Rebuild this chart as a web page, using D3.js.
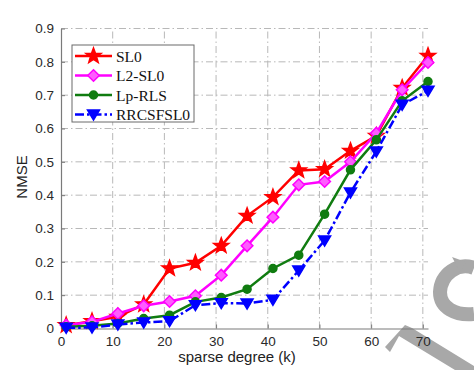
<!DOCTYPE html>
<html><head><meta charset="utf-8">
<script src="https://cdn.jsdelivr.net/npm/d3@7"></script>
<style>body{margin:0;background:#fff}svg{display:block}</style>
</head><body>
<svg id="c" width="474" height="370"></svg>
<script>
const kValues = [1, 6, 11, 16, 21, 26, 31, 36, 41, 46, 51, 56, 61, 66, 71];
const sl0     = [0.010, 0.022, 0.035, 0.072, 0.180, 0.197, 0.248, 0.338, 0.394, 0.474, 0.478, 0.533, 0.578, 0.722, 0.818];
const l2sl0   = [0.010, 0.020, 0.045, 0.068, 0.081, 0.098, 0.160, 0.248, 0.334, 0.431, 0.441, 0.500, 0.586, 0.716, 0.798];
const lprls   = [0.005, 0.008, 0.015, 0.030, 0.040, 0.080, 0.093, 0.118, 0.180, 0.220, 0.343, 0.476, 0.566, 0.683, 0.741];
const rrcsf   = [0.002, 0.003, 0.012, 0.018, 0.022, 0.070, 0.076, 0.075, 0.086, 0.174, 0.264, 0.408, 0.531, 0.671, 0.713];
const seriesNames = ["SL0", "L2-SL0", "Lp-RLS", "RRCSFSL0"];
const xTicks = [0, 10, 20, 30, 40, 50, 60, 70];
const yTicks = [0, 0.1, 0.2, 0.3, 0.4, 0.5, 0.6, 0.7, 0.8, 0.9];

const svg = d3.select("#c");
const x = d3.scaleLinear().domain([0, 71]).range([61, 428]);
const y = d3.scaleLinear().domain([0, 0.9]).range([328.5, 28.5]);

// watermark shapes (background)
const wm = svg.append("g");
wm.append("path").attr("d", "M474,268 C458,262 441,274 440,292 C440,308 456,316 474,314")
  .attr("fill", "none").attr("stroke", "#a8a8a8").attr("stroke-width", 14);
wm.append("path").attr("d", "M452,257 L466,262 L460,272 Z").attr("fill", "#a8a8a8");
wm.append("path").attr("d", "M405,325 L412,328 L474,366 L474,370 L455,370 L399,336 L390,352 L385,347 Z")
  .attr("fill", "#a8a8a8");

// marker shapes
function starPath(R, r) {
  const p = [];
  for (let i = 0; i < 10; i++) {
    const a = -Math.PI / 2 + i * Math.PI / 5;
    const rad = i % 2 === 0 ? R : r;
    p.push([rad * Math.cos(a), rad * Math.sin(a)]);
  }
  return "M" + p.map(q => q[0].toFixed(2) + "," + q[1].toFixed(2)).join("L") + "Z";
}
function diamondPath(h) { return `M0,${-h}L${h},0L0,${h}L${-h},0Z`; }
function triDownPath(w, h) { return `M${-w},${-h * 0.45}L${w},${-h * 0.45}L0,${h * 0.55}Z`; }
function circlePath(r) { return `M${r},0A${r},${r} 0 1,1 ${-r},0A${r},${r} 0 1,1 ${r},0Z`; }

// grid
const g = svg.append("g");
g.selectAll(".vg").data(xTicks.filter(d => d > 0)).join("line")
  .attr("x1", d => x(d)).attr("x2", d => x(d)).attr("y1", y(0)).attr("y2", y(0.9))
  .attr("stroke", "#b8b8b8").attr("stroke-width", 1).attr("stroke-dasharray", "7,3,1.5,3");
g.selectAll(".hg").data(yTicks.filter(d => d > 0)).join("line")
  .attr("x1", x(0)).attr("x2", x(71)).attr("y1", d => y(d)).attr("y2", d => y(d))
  .attr("stroke", "#b8b8b8").attr("stroke-width", 1).attr("stroke-dasharray", "7,3,1.5,3");

// axes
const xAxis = d3.axisBottom(x).tickValues(xTicks).tickSizeInner(-4).tickSizeOuter(0).tickPadding(8).tickFormat(d3.format("d"));
const yAxis = d3.axisLeft(y).tickValues(yTicks).tickSizeInner(-4).tickSizeOuter(0).tickPadding(7).tickFormat(d => d === 0 ? "0" : d3.format(".1f")(d));
const ax = svg.append("g").attr("transform", `translate(0,${y(0)})`).call(xAxis);
const ay = svg.append("g").attr("transform", `translate(${x(0)},0)`).call(yAxis);
[ax, ay].forEach(a => {
  a.select(".domain").attr("stroke", "#7a7a7a").attr("stroke-width", 1.2);
  a.selectAll(".tick line").attr("stroke", "#7a7a7a");
  a.selectAll("text").attr("font-family", "Liberation Sans, Arial, sans-serif").attr("font-size", 13.5).attr("fill", "#2a2a2a");
});

// labels
svg.append("text").attr("x", 237).attr("y", 362).attr("text-anchor", "middle")
  .attr("font-family", "Liberation Sans, Arial, sans-serif").attr("font-size", 15).attr("fill", "#222").text("sparse degree (k)");
svg.append("text").attr("transform", "translate(27,177) rotate(-90)").attr("text-anchor", "middle")
  .attr("font-family", "Liberation Sans, Arial, sans-serif").attr("font-size", 15).attr("fill", "#222").text("NMSE");

const series = [
  {name: seriesNames[0], vals: sl0,   color: "#ff0000", fill: "#ff0000", dash: null,        mark: starPath(8, 3.3)},
  {name: seriesNames[1], vals: l2sl0, color: "#ff00ff", fill: "#ff5cff", dash: null,        mark: diamondPath(5.8)},
  {name: seriesNames[2], vals: lprls, color: "#107c10", fill: "#107c10", dash: null,        mark: circlePath(4)},
  {name: seriesNames[3], vals: rrcsf, color: "#0000ff", fill: "#0000ff", dash: "9,3,2.5,3", mark: triDownPath(6, 10)}
];
const line = d3.line().x(d => x(d[0])).y(d => y(d[1]));
series.forEach(s => {
  const pts = kValues.map((k, i) => [k, s.vals[i]]);
  svg.append("path").attr("d", line(pts)).attr("fill", "none").attr("stroke", s.color)
    .attr("stroke-width", 2.5).attr("stroke-dasharray", s.dash);
  svg.selectAll(null).data(pts).join("path")
    .attr("d", s.mark)
    .attr("transform", d => `translate(${x(d[0])},${y(d[1])})`)
    .attr("fill", s.fill).attr("stroke", s.color).attr("stroke-width", 1.5);
});

// legend
const lg = svg.append("g");
lg.append("rect").attr("x", 72).attr("y", 45).attr("width", 122).attr("height", 77)
  .attr("fill", "#fff").attr("stroke", "#6a6a6a").attr("stroke-width", 1);
series.forEach((s, i) => {
  const yy = 56 + i * 19.5;
  lg.append("line").attr("x1", 75).attr("x2", 112).attr("y1", yy).attr("y2", yy)
    .attr("stroke", s.color).attr("stroke-width", 2.5).attr("stroke-dasharray", s.dash);
  lg.append("path").attr("d", s.mark)
    .attr("transform", `translate(93.5,${yy})`)
    .attr("fill", s.fill).attr("stroke", s.color).attr("stroke-width", 1.5);
  lg.append("text").attr("x", 116).attr("y", yy + 5.5)
    .attr("font-family", "Liberation Serif, Times New Roman, serif").attr("font-size", 15.5).attr("fill", "#111").text(s.name);
});
</script>
</body></html>
